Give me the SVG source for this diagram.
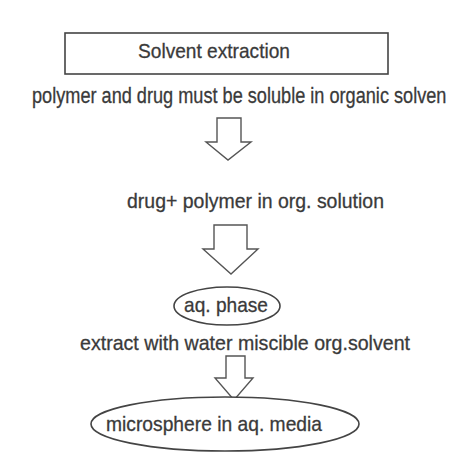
<svg xmlns="http://www.w3.org/2000/svg" width="474" height="474" viewBox="0 0 474 474">
<style>
.t{font-family:"Liberation Sans Narrow","Liberation Sans",Arial,sans-serif;fill:#3a3a3a;stroke:#3a3a3a;stroke-width:0.3;font-size:21px}
.s{fill:#fff;stroke:#444;stroke-width:1.6}
.a{fill:#fff;stroke:#555;stroke-width:1.4;stroke-linejoin:miter}
</style>
<rect width="474" height="474" fill="#fff"/>
<g id="n1"><rect class="s" x="65" y="33" width="323" height="41"/><text class="t" x="138" y="58" textLength="152" lengthAdjust="spacingAndGlyphs">Solvent extraction</text></g>
<g id="n2"><text class="t" transform="translate(32,103) scale(0.825,1)" x="0" y="0" style="font-size:22px">polymer and drug must be soluble in organic solven</text></g>
<g id="n3"><text class="t" x="127" y="208" textLength="257" lengthAdjust="spacingAndGlyphs">drug+ polymer in org. solution</text></g>
<g id="n4"><ellipse class="s" cx="227" cy="306" rx="53" ry="19"/><text class="t" x="184" y="312" textLength="84" lengthAdjust="spacingAndGlyphs">aq. phase</text></g>
<g id="n5"><text class="t" x="80" y="350" textLength="330" lengthAdjust="spacingAndGlyphs">extract with water miscible org.solvent</text></g>
<g id="connectors">
<polygon class="a" points="217,118 241,118 241,142 251,142 228,160 206,142 217,142"/>
<polygon class="a" points="214,225 247,225 247,249 258,249 231,274 203,249 214,249"/>
<polygon class="a" points="226,356 245,356 245,378 253,378 234,400 215,378 226,378"/>
</g>
<g id="n6"><ellipse class="s" cx="225" cy="424" rx="134" ry="27"/><text class="t" x="106" y="431" textLength="216" lengthAdjust="spacingAndGlyphs">microsphere in aq. media</text></g>
</svg>
